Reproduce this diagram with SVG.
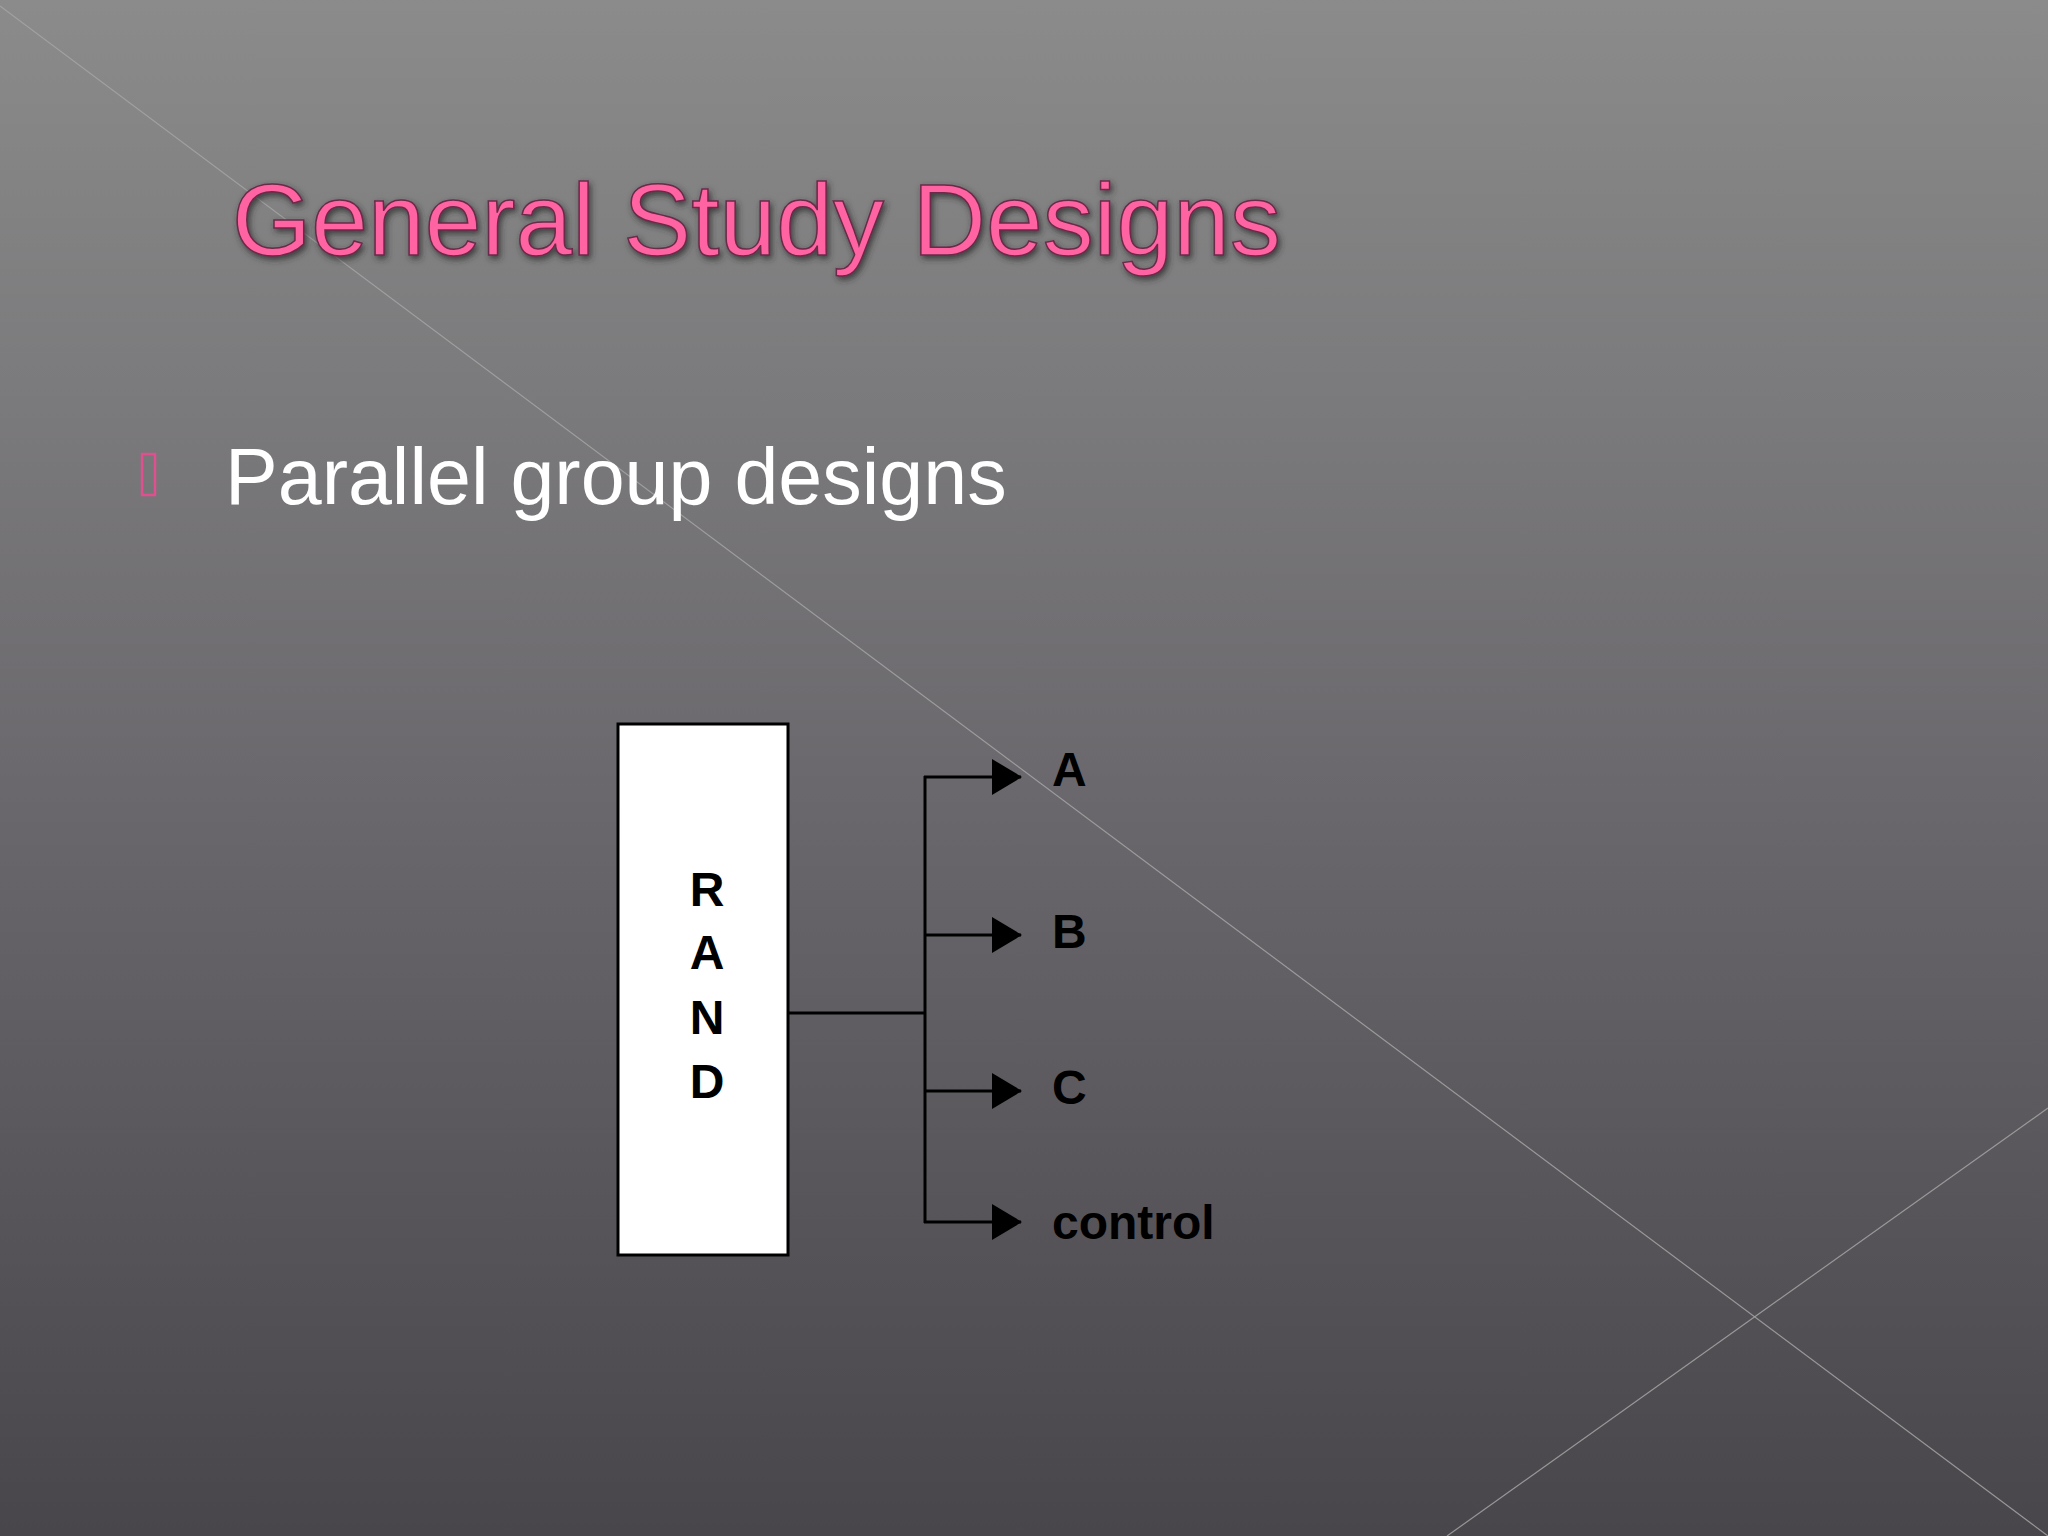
<svg xmlns="http://www.w3.org/2000/svg" width="2048" height="1536" viewBox="0 0 2048 1536">
  <defs>
    <linearGradient id="bg" x1="0" y1="0" x2="0" y2="1">
      <stop offset="0" stop-color="#8b8b8b"/>
      <stop offset="0.5" stop-color="#6b696d"/>
      <stop offset="1" stop-color="#48464a"/>
    </linearGradient>
    <filter id="shadow" x="-5%" y="-20%" width="110%" height="140%">
      <feGaussianBlur in="SourceAlpha" stdDeviation="3"/>
      <feOffset dx="2" dy="3" result="b"/>
      <feFlood flood-color="#2a2a2a" flood-opacity="0.8"/>
      <feComposite in2="b" operator="in"/>
      <feMerge><feMergeNode/><feMergeNode in="SourceGraphic"/></feMerge>
    </filter>
    <marker id="arrow" markerWidth="30" markerHeight="36" refX="29" refY="18" orient="auto" markerUnits="userSpaceOnUse">
      <path d="M0,0 L30,18 L0,36 Z" fill="#000"/>
    </marker>
    <style>
      .title { font-family: "Liberation Sans", Arial, sans-serif; font-size: 102px; fill: #ff64a2; stroke: #6a2a48; stroke-width: 1.5px; }
      .body { font-family: "Liberation Sans", Arial, sans-serif; font-size: 79px; fill: #ffffff; }
      .lbl { font-family: "Liberation Sans", Arial, sans-serif; font-size: 48px; font-weight: bold; fill: #000; }
      .conn { stroke: #000; stroke-width: 3; fill: none; }
      .deco { stroke: #a4a4a4; stroke-width: 1.2; fill: none; opacity: 0.85; }
    </style>
  </defs>
  <rect x="0" y="0" width="2048" height="1536" fill="url(#bg)"/>
  <g id="decoration">
    <line class="deco" x1="0" y1="6" x2="2048" y2="1536"/>
    <line class="deco" x1="2048" y1="1108" x2="1447" y2="1536"/>
  </g>
  <g id="title">
    <text class="title" x="232" y="255" filter="url(#shadow)">General Study Designs</text>
  </g>
  <g id="bullet">
    <rect x="142" y="454" width="13" height="41" fill="none" stroke="#e0508e" stroke-width="2.5"/>
    <text class="body" x="225" y="504">Parallel group designs</text>
  </g>
  <g id="rand">
    <rect x="618" y="724" width="170" height="531" fill="#ffffff" stroke="#000" stroke-width="3"/>
    <text class="lbl" x="707" y="906" text-anchor="middle">R</text>
    <text class="lbl" x="707" y="969" text-anchor="middle">A</text>
    <text class="lbl" x="707" y="1034" text-anchor="middle">N</text>
    <text class="lbl" x="707" y="1098" text-anchor="middle">D</text>
  </g>
  <g id="connectors">
    <line class="conn" x1="788" y1="1013" x2="925" y2="1013"/>
    <line class="conn" x1="925" y1="776" x2="925" y2="1223"/>
    <line class="conn" x1="924" y1="777" x2="1021" y2="777" marker-end="url(#arrow)"/>
    <line class="conn" x1="924" y1="935" x2="1021" y2="935" marker-end="url(#arrow)"/>
    <line class="conn" x1="924" y1="1091" x2="1021" y2="1091" marker-end="url(#arrow)"/>
    <line class="conn" x1="924" y1="1222" x2="1021" y2="1222" marker-end="url(#arrow)"/>
  </g>
  <g id="node-a"><text class="lbl" x="1052" y="786">A</text></g>
  <g id="node-b"><text class="lbl" x="1052" y="948">B</text></g>
  <g id="node-c"><text class="lbl" x="1052" y="1104">C</text></g>
  <g id="node-control"><text class="lbl" x="1052" y="1239">control</text></g>
</svg>
